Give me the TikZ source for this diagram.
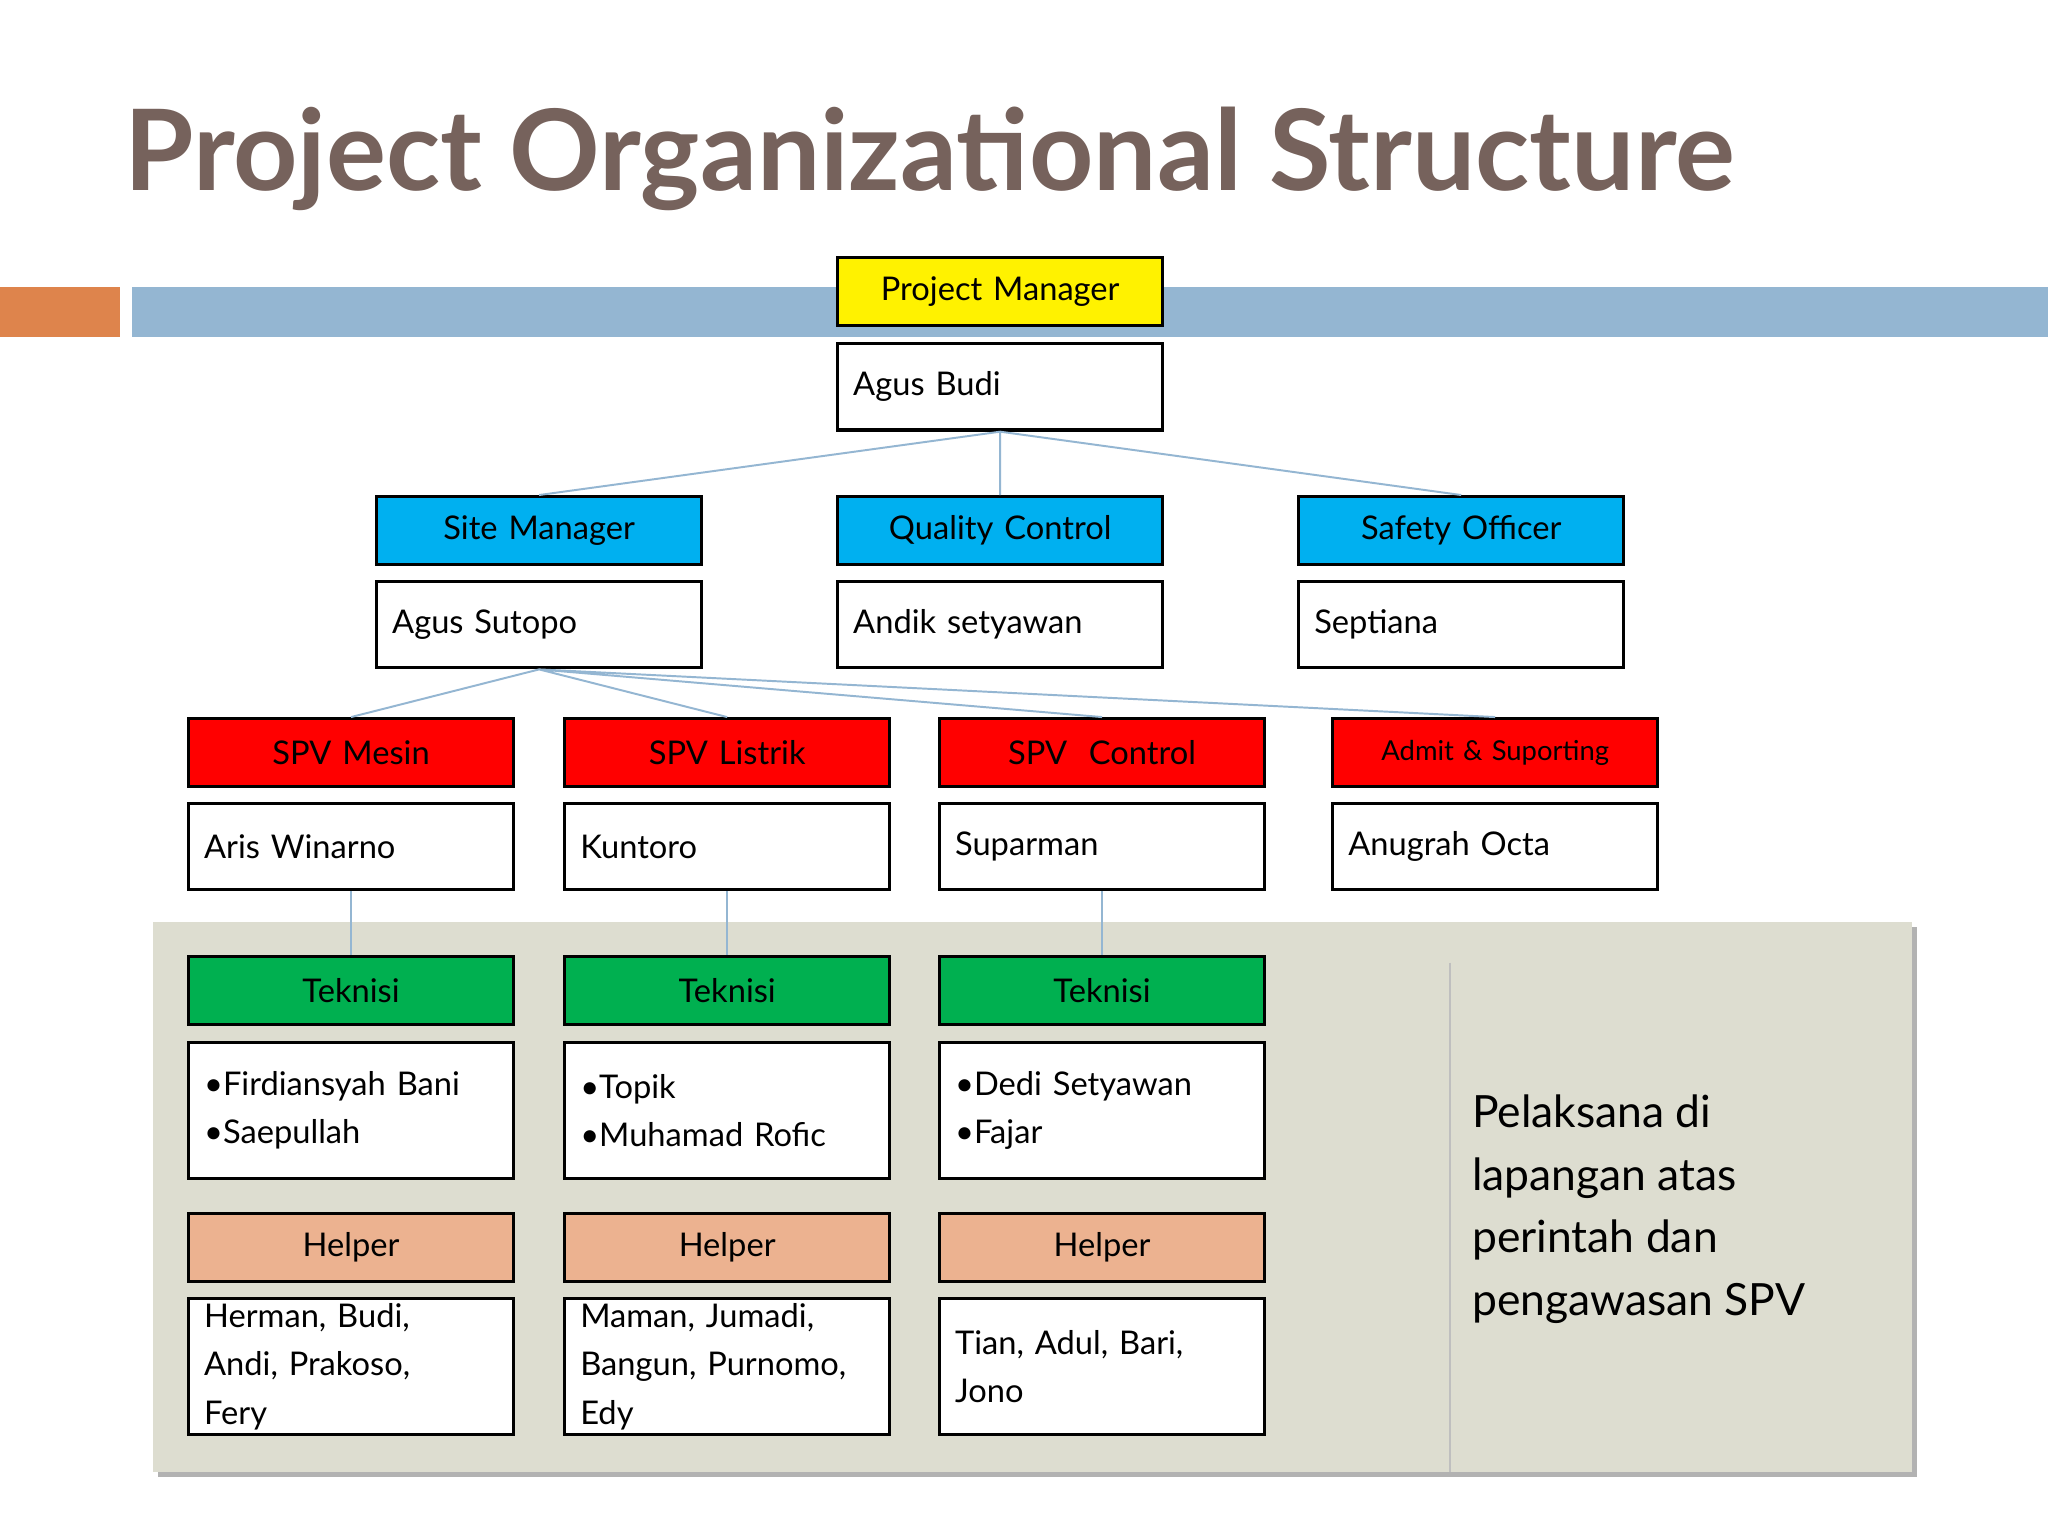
\documentclass[tikz,border=0pt]{standalone}
\usepackage{fontspec}
\setmainfont{Lato}
\begin{document}
\begin{tikzpicture}[x=1pt,y=-1pt,
 bx/.style={draw=black,line width=2.5pt,anchor=north west,minimum width=249pt,inner sep=0pt,font=\fontsize{25}{37}\selectfont},
 hd/.style={bx,minimum height=52pt,align=center,text width=249pt},
 nm/.style={bx,minimum height=66pt,align=left,text width=225pt},
 lst/.style={bx,minimum height=104pt,align=left,text width=225pt},
 ln/.style={draw=blue!25!gray!60,line width=1.5pt,color={rgb,255:red,148;green,182;blue,210}}]
\definecolor{ttl}{RGB}{118,98,92}
\definecolor{bar}{RGB}{148,182,210}
\definecolor{org}{RGB}{222,132,76}
\definecolor{cyan1}{RGB}{0,176,240}
\definecolor{grn}{RGB}{0,176,80}
\definecolor{salm}{RGB}{236,178,144}
\definecolor{panel}{RGB}{221,221,208}
\useasboundingbox (0,0) rectangle (1568,1176);
\fill[white] (0,0) rectangle (1568,1176);
\node[anchor=base west,inner sep=0pt,text=ttl,font=\fontsize{86}{90}\selectfont\bfseries] (title) at (95,146) {Project Organizational Structure};
\fill[org] (0,220) rectangle (92,258);
\fill[bar] (101,220) rectangle (1568,258);
% panel
\fill[gray!60] (121,710) rectangle (1468,1131);
\fill[panel] (117,706) rectangle (1464,1127);
\draw[gray!50,line width=2pt] (1110,737) -- (1110,1127);
\node[anchor=north west,align=left,font=\fontsize{34}{48}\selectfont,inner sep=0pt] (note) at (1127,838) {Pelaksana di\\lapangan atas\\perintah dan\\pengawasan SPV};
% top
\node[hd,fill=yellow] (pm) at (640,196) {Project Manager};
\node[nm,fill=white] (pmn) at (640,262) {Agus Budi};
\node[hd,fill=cyan1] (sm) at (287,379) {Site Manager};
\node[nm,fill=white] (smn) at (287,444) {Agus Sutopo};
\node[hd,fill=cyan1] (qc) at (640,379) {Quality Control};
\node[nm,fill=white] (qcn) at (640,444) {Andik setyawan};
\node[hd,fill=cyan1] (so) at (993,379) {Safety Officer};
\node[nm,fill=white] (son) at (993,444) {Septiana};
\node[hd,fill=red] (s1) at (143,549) {SPV Mesin};
\node[nm,fill=white] (s1n) at (143,614) {Aris Winarno};
\node[hd,fill=red] (s2) at (431,549) {SPV Listrik};
\node[nm,fill=white] (s2n) at (431,614) {Kuntoro};
\node[hd,fill=red] (s3) at (718,549) {SPV\ \ Control};
\node[nm,fill=white] (s3n) at (718,614) {Suparman};
\node[hd,fill=red,font=\fontsize{21}{30}\selectfont] (s4) at (1019,549) {Admit \& Suporting};
\node[nm,fill=white] (s4n) at (1019,614) {Anugrah Octa};
\node[hd,fill=grn] (t1) at (143,731) {Teknisi};
\node[lst,fill=white] (t1n) at (143,797) {•Firdiansyah Bani\\•Saepullah};
\node[hd,fill=grn] (t2) at (431,731) {Teknisi};
\node[lst,fill=white] (t2n) at (431,797) {•Topik\\•Muhamad Rofic};
\node[hd,fill=grn] (t3) at (718,731) {Teknisi};
\node[lst,fill=white] (t3n) at (718,797) {•Dedi Setyawan\\•Fajar};
\node[hd,fill=salm] (h1) at (143,928) {Helper};
\node[lst,fill=white] (h1n) at (143,993) {Herman, Budi,\\Andi, Prakoso,\\Fery};
\node[hd,fill=salm] (h2) at (431,928) {Helper};
\node[lst,fill=white] (h2n) at (431,993) {Maman, Jumadi,\\Bangun, Purnomo,\\Edy};
\node[hd,fill=salm] (h3) at (718,928) {Helper};
\node[lst,fill=white] (h3n) at (718,993) {Tian, Adul, Bari,\\Jono};
% connectors
\draw[ln] (pmn.south) -- (sm.north) (pmn.south) -- (qc.north) (pmn.south) -- (so.north);
\draw[ln] (smn.south) -- (s1.north) (smn.south) -- (s2.north) (smn.south) -- (s3.north) (smn.south) -- (s4.north);
\draw[ln] (s1n.south) -- (t1.north) (s2n.south) -- (t2.north) (s3n.south) -- (t3.north);
\end{tikzpicture}
\end{document}
